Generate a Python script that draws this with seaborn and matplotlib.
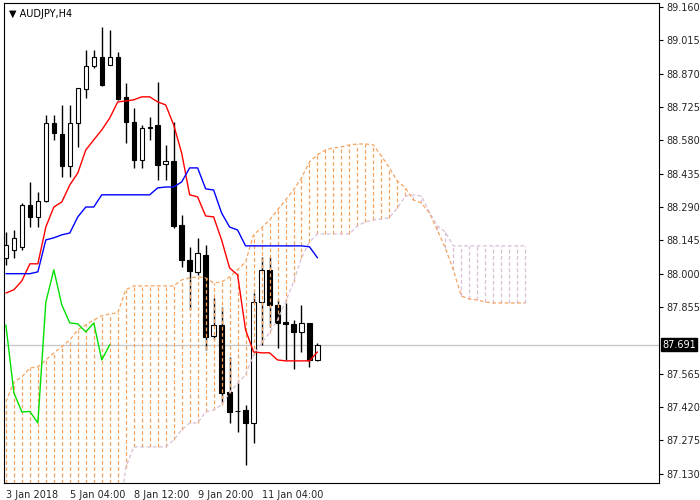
import numpy as np
import pandas as pd
import matplotlib
matplotlib.use('Agg')
import matplotlib.pyplot as plt
import seaborn as sns

# AUDJPY H4 candles
opens = [88.069, 88.103, 88.117, 88.299, 88.247, 88.316, 88.656, 88.608, 88.469, 88.656,
         88.803, 88.903, 88.943, 88.908, 88.943, 88.769, 88.660, 88.495, 88.634, 88.647,
         88.477, 88.490, 88.212, 88.060, 88.008, 88.082, 87.730, 87.777, 87.486, 87.403,
         87.408, 87.351, 87.877, 88.017, 87.864, 87.790, 87.782, 87.747, 87.786, 87.625]
highs = [88.182, 88.190, 88.308, 88.399, 88.356, 88.690, 88.690, 88.734, 88.734, 88.808,
         88.973, 88.973, 89.073, 89.060, 88.964, 88.830, 88.721, 88.647, 88.682, 88.834,
         88.560, 88.660, 88.256, 88.117, 88.156, 88.125, 87.895, 87.856, 87.638, 87.525,
         87.430, 87.916, 88.073, 88.073, 87.886, 87.873, 87.799, 87.864, 87.786, 87.699]
lows = [88.038, 88.069, 88.103, 88.203, 88.203, 88.312, 88.582, 88.421, 88.421, 88.551,
        88.764, 88.895, 88.817, 88.908, 88.756, 88.569, 88.460, 88.460, 88.582, 88.408,
        88.408, 88.199, 88.030, 87.843, 87.995, 87.669, 87.716, 87.438, 87.351, 87.312,
        87.169, 87.264, 87.690, 87.769, 87.677, 87.625, 87.586, 87.660, 87.595, 87.621]
closes = [88.125, 88.156, 88.299, 88.247, 88.316, 88.656, 88.612, 88.469, 88.656, 88.808,
          88.903, 88.943, 88.821, 88.943, 88.760, 88.660, 88.495, 88.634, 88.638, 88.473,
          88.490, 88.208, 88.060, 88.012, 88.090, 87.725, 87.777, 87.482, 87.399, 87.401,
          87.351, 87.877, 88.017, 87.864, 87.786, 87.782, 87.747, 87.786, 87.625, 87.691]

tenkan = [87.916, 87.930, 87.969, 88.043, 88.043, 88.203, 88.290, 88.312, 88.386, 88.438,
          88.538, 88.582, 88.625, 88.677, 88.747, 88.751, 88.756, 88.769, 88.769, 88.747,
          88.734, 88.647, 88.525, 88.343, 88.334, 88.251, 88.247, 88.147, 88.025, 87.995,
          87.756, 87.660, 87.656, 87.656, 87.625, 87.621, 87.621, 87.621, 87.621, 87.660]
kijun = [88.000, 88.000, 88.000, 88.000, 88.008, 88.147, 88.156, 88.169, 88.177, 88.247,
         88.290, 88.290, 88.343, 88.343, 88.343, 88.343, 88.343, 88.343, 88.343, 88.373,
         88.377, 88.377, 88.399, 88.460, 88.460, 88.369, 88.364, 88.264, 88.203, 88.190,
         88.121, 88.121, 88.121, 88.121, 88.121, 88.121, 88.121, 88.121, 88.117, 88.069]

span_a = [87.443, 87.530, 87.551, 87.590, 87.595, 87.625, 87.656, 87.682, 87.712, 87.756,
          87.777, 87.799, 87.817, 87.825, 87.830, 87.930, 87.947, 87.947, 87.947, 87.947,
          87.947, 87.947, 87.973, 87.982, 87.986, 87.982, 87.960, 87.964, 87.986, 88.017,
          88.051, 88.169, 88.199, 88.234, 88.277, 88.321, 88.364, 88.417, 88.486, 88.517,
          88.538, 88.547, 88.551, 88.560, 88.564, 88.564, 88.560, 88.512, 88.460, 88.403,
          88.373, 88.321, 88.308, 88.264, 88.190, 88.112, 88.017, 87.903, 87.890, 87.886,
          87.877, 87.873, 87.873, 87.873, 87.873, 87.873]
span_b = [86.900] * 15 + [87.156, 87.247, 87.247, 87.247, 87.247, 87.247, 87.277, 87.321,
          87.351, 87.351, 87.399, 87.408, 87.430, 87.482, 87.525, 87.560, 87.647, 87.699,
          87.743, 87.799, 87.877, 87.964, 88.069, 88.138, 88.173, 88.173, 88.173, 88.173,
          88.173, 88.208, 88.225, 88.234, 88.238, 88.243, 88.286, 88.338, 88.343, 88.338,
          88.269, 88.208, 88.182] + [88.121] * 10

tick_pos = [0, 8, 16, 24, 32]
tick_labels = ['3 Jan 2018', '5 Jan 04:00', '8 Jan 12:00', '9 Jan 20:00', '11 Jan 04:00']
y_ticks = [87.130, 87.275, 87.420, 87.565, 87.855, 88.000, 88.145, 88.290,
           88.435, 88.580, 88.725, 88.870, 89.015, 89.160]
last_price = 87.691

df = pd.DataFrame({'open': opens, 'high': highs, 'low': lows, 'close': closes,
                   'tenkan': tenkan, 'kijun': kijun})
df['idx'] = np.arange(len(df))
cloud = pd.DataFrame({'a': span_a, 'b': span_b})
cloud['idx'] = np.arange(len(cloud))
chikou = pd.DataFrame({'idx': df['idx'][:-26].values, 'val': df['close'][26:].values})

sns.set_style('white')
plt.rcParams['font.family'] = ['DejaVu Sans']
fig = plt.figure(figsize=(7, 5), dpi=100)
ax = fig.add_axes([0.005, 0.034, 0.937, 0.96])

orange = '#f4a460'
lilac = '#d8bfd8'

# cloud hatching
ymin = 87.09
for _, r in cloud.iterrows():
    lo = max(min(r['a'], r['b']), ymin)
    hi = max(r['a'], r['b'])
    col = orange if r['a'] >= r['b'] else lilac
    ax.vlines(r['idx'], lo, hi, colors=col, linestyles=(0, (3, 2)), linewidth=0.9, zorder=3)
ax.plot(cloud['idx'], cloud['a'], color=orange, ls=(0, (3, 2)), lw=0.9, zorder=3)
ax.plot(cloud['idx'], cloud['b'], color=lilac, ls=(0, (3, 2)), lw=0.9, zorder=3)

# candles
for _, r in df.iterrows():
    ax.vlines(r['idx'], r['low'], r['high'], color='black', linewidth=1, zorder=2)
    up = r['close'] >= r['open']
    lo, hi = sorted([r['open'], r['close']])
    ax.bar(r['idx'], max(hi - lo, 0.004), bottom=lo, width=0.55,
           color='white' if up else 'black', edgecolor='black', linewidth=0.8, zorder=2)

sns.lineplot(data=df, x='idx', y='tenkan', color='red', linewidth=1, ax=ax, zorder=4)
sns.lineplot(data=df, x='idx', y='kijun', color='blue', linewidth=1, ax=ax, zorder=4)
sns.lineplot(data=chikou, x='idx', y='val', color='#00e000', linewidth=1, ax=ax, zorder=4)

ax.axhline(last_price, color='#c8c8c8', linewidth=1, zorder=1)

ax.set_xlim(-0.3, 81.8)
ax.set_ylim(ymin, 89.177)
ax.yaxis.tick_right()
ax.set_yticks(y_ticks)
ax.set_yticklabels([f'{v:.3f}' for v in y_ticks], fontsize=7)
ax.set_xticks(tick_pos)
ax.set_xticklabels(tick_labels, fontsize=7, ha='left')
ax.tick_params(axis='both', length=3, width=0.8, color='black', pad=2)
ax.set_xlabel('')
ax.set_ylabel('')
for s in ax.spines.values():
    s.set_color('black')
    s.set_linewidth(0.8)

ax.text(1.004, last_price, f'{last_price:.3f}', transform=ax.get_yaxis_transform(),
        fontsize=7, color='white', va='center', ha='left',
        bbox=dict(boxstyle='square,pad=0.15', fc='black', ec='black'))
ax.text(0.008, 0.988, '\u25bc AUDJPY,H4', transform=ax.transAxes, fontsize=7,
        va='top', ha='left', color='black')

fig.savefig('out.png', dpi=100, facecolor='white')
